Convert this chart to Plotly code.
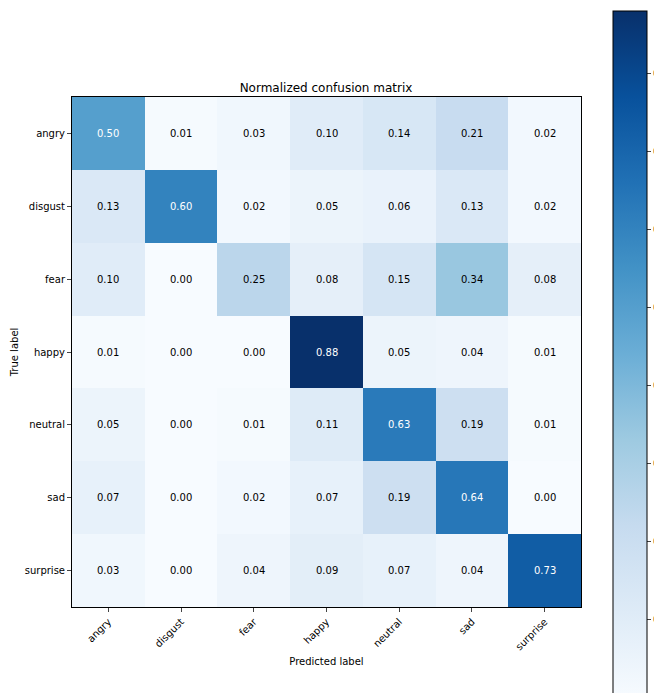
import plotly.graph_objects as go

labels = ["angry", "disgust", "fear", "happy", "neutral", "sad", "surprise"]
matrix = [
    [0.50, 0.01, 0.03, 0.10, 0.14, 0.21, 0.02],
    [0.13, 0.60, 0.02, 0.05, 0.06, 0.13, 0.02],
    [0.10, 0.00, 0.25, 0.08, 0.15, 0.34, 0.08],
    [0.01, 0.00, 0.00, 0.88, 0.05, 0.04, 0.01],
    [0.05, 0.00, 0.01, 0.11, 0.63, 0.19, 0.01],
    [0.07, 0.00, 0.02, 0.07, 0.19, 0.64, 0.00],
    [0.03, 0.00, 0.04, 0.09, 0.07, 0.04, 0.73],
]
cbar_ticks = [0.0, 0.1, 0.2, 0.3, 0.4, 0.5, 0.6, 0.7, 0.8]

blues = [[0.0, "#f7fbff"], [0.125, "#deebf7"], [0.25, "#c6dbef"], [0.375, "#9ecae1"],
         [0.5, "#6baed6"], [0.625, "#4292c6"], [0.75, "#2171b5"], [0.875, "#08519c"],
         [1.0, "#08306b"]]

vmax = max(max(r) for r in matrix)
thresh = vmax / 2

fig = go.Figure(go.Heatmap(
    z=matrix, x=labels, y=labels, colorscale=blues, zmin=0, zmax=vmax,
    colorbar=dict(x=605 / 662, xanchor="left", xpad=0, ypad=0, y=1 - 3 / 693, yanchor="top",
                  len=687 / 693, lenmode="fraction", thickness=34, thicknessmode="pixels",
                  tickvals=cbar_ticks, ticktext=[f"{t:.1f}" for t in cbar_ticks],
                  ticks="outside", ticklen=4, outlinecolor="black", outlinewidth=1,
                  tickfont=dict(size=10)),
))

annotations = []
for i, row in enumerate(matrix):
    for j, v in enumerate(row):
        annotations.append(dict(
            x=labels[j], y=labels[i], text=f"{v:.2f}", showarrow=False,
            font=dict(color="white" if v > thresh else "black", size=10)))

fig.update_layout(
    width=662, height=693,
    margin=dict(l=0, r=0, t=0, b=0, autoexpand=False),
    paper_bgcolor="white", plot_bgcolor="white",
    font=dict(family="DejaVu Sans", size=10, color="black"),
    title=dict(text="Normalized confusion matrix", x=318 / 662, xanchor="center",
               y=1 - 80 / 693, yanchor="middle", font=dict(size=12)),
    annotations=annotations,
    xaxis=dict(domain=[64 / 662, 573 / 662], tickangle=-45, ticks="outside", ticklen=4,
               showline=True, mirror=True, linecolor="black", showgrid=False,
               title=dict(text="Predicted label", standoff=6, font=dict(size=10))),
    yaxis=dict(domain=[1 - 599 / 693, 1 - 89 / 693], autorange="reversed",
               ticks="outside", ticklen=4, showline=True, mirror=True,
               linecolor="black", showgrid=False,
               title=dict(text="True label", standoff=4, font=dict(size=10))),
)

fig.write_html("out.html")
